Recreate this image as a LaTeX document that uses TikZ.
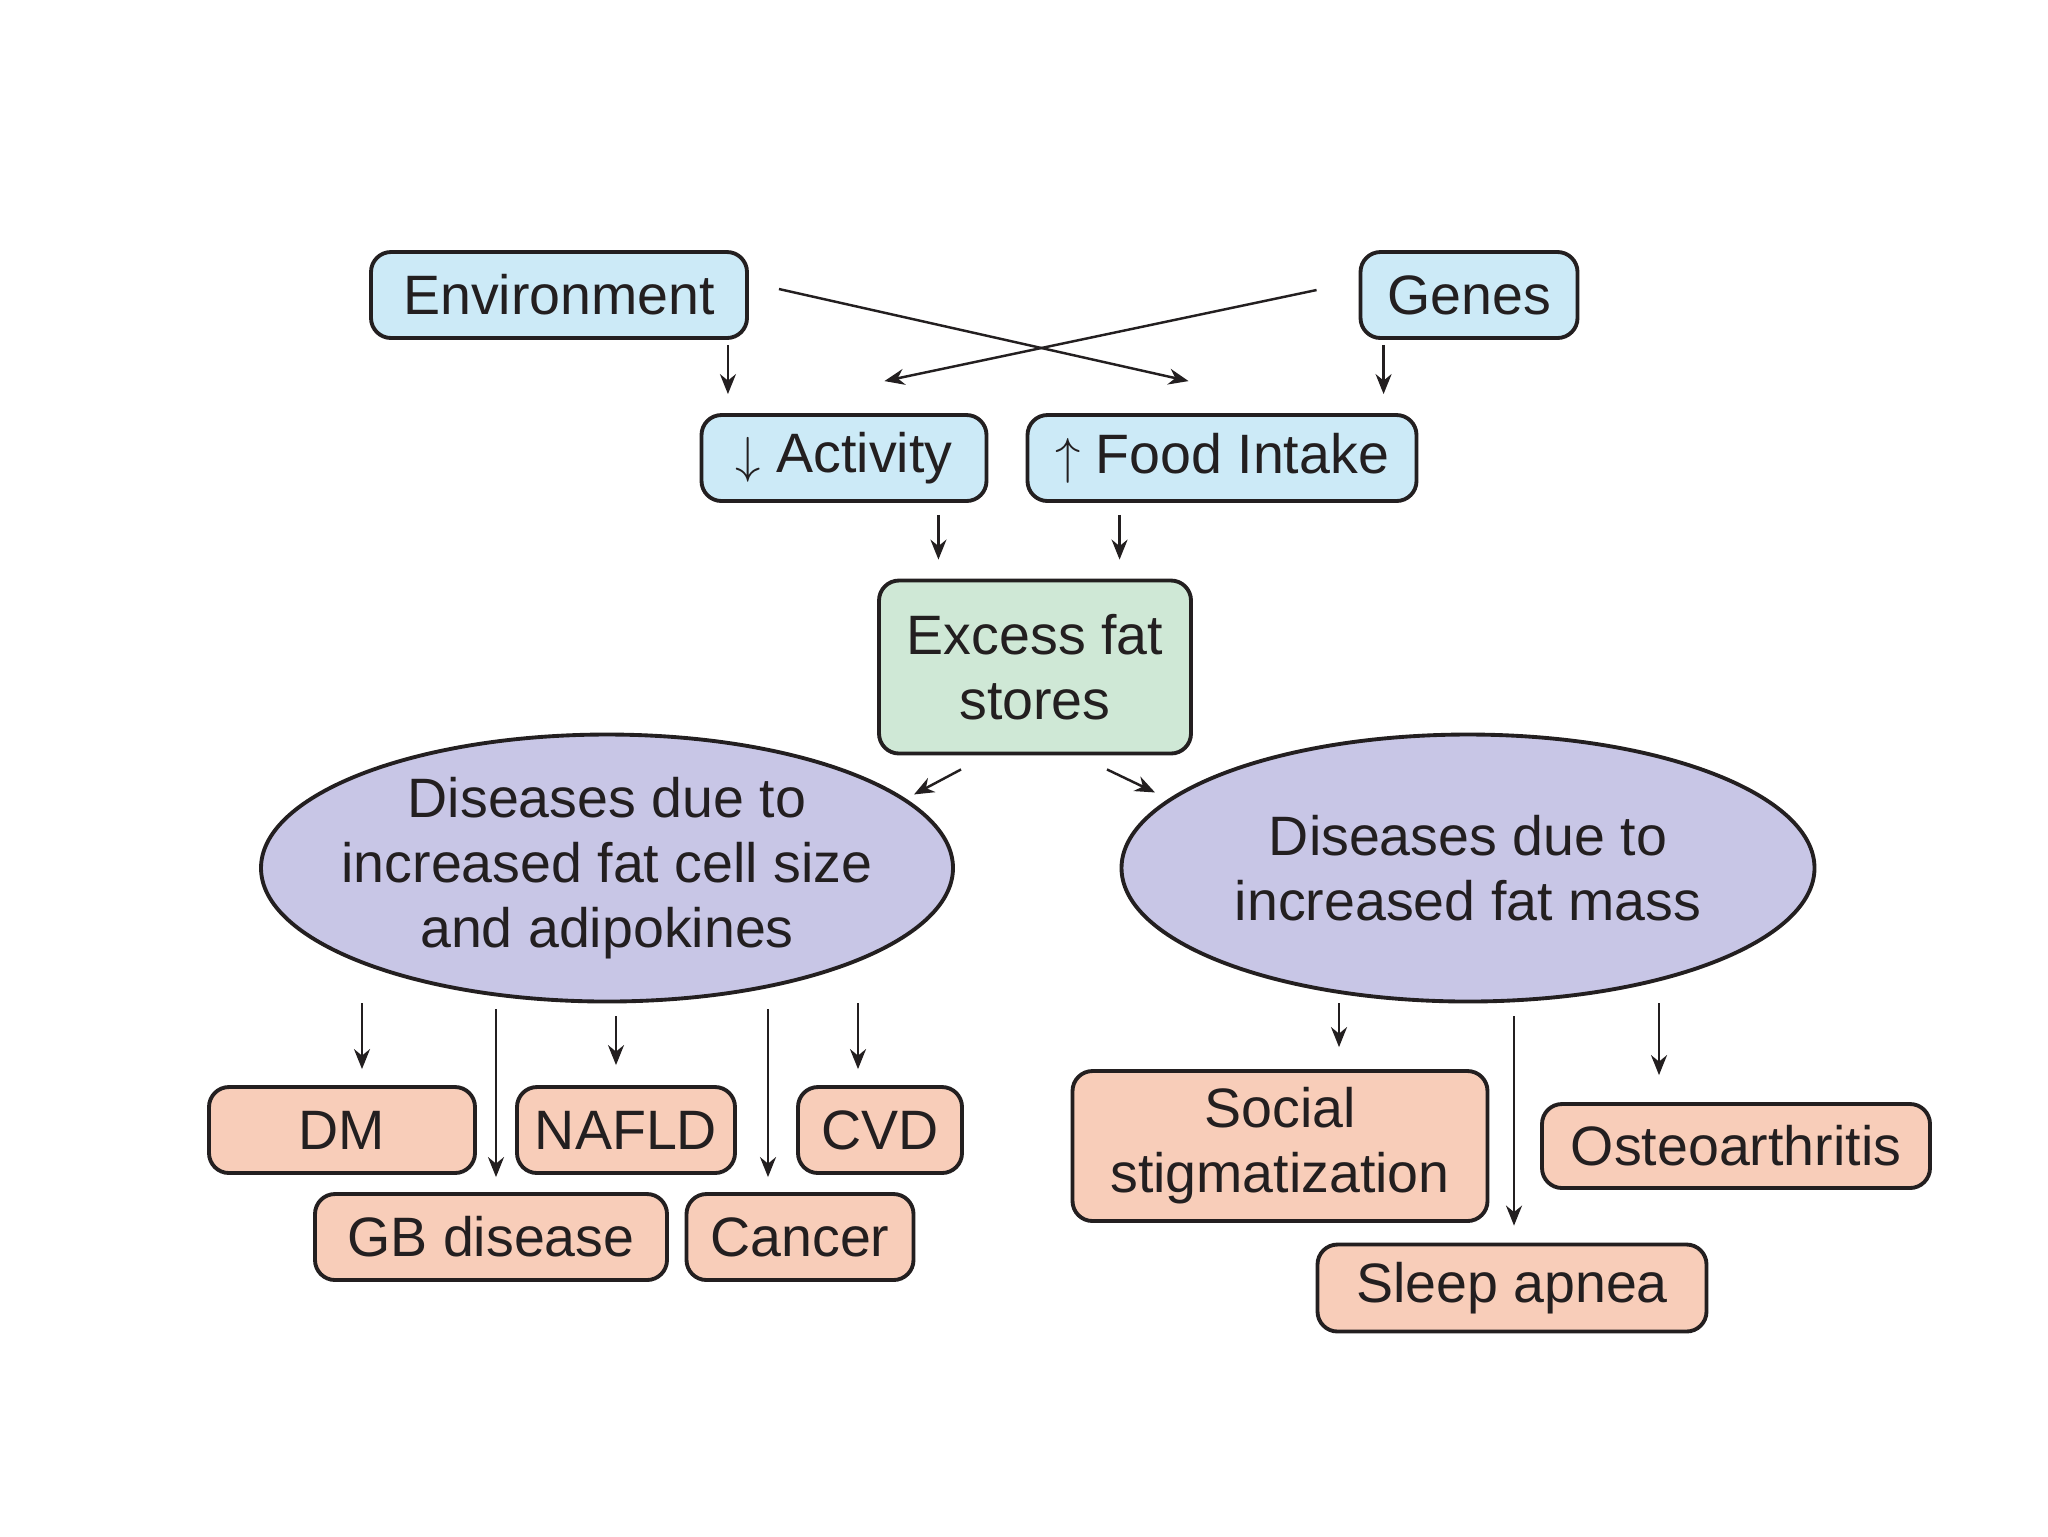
\documentclass[tikz,border=0pt]{standalone}
\usepackage{fontspec}
\setmainfont{Liberation Sans}
\usetikzlibrary{arrows.meta,positioning,shapes.geometric,calc}
\definecolor{obink}{HTML}{231F20}
\definecolor{obblue}{HTML}{CCEAF7}
\definecolor{obgreen}{HTML}{CFE8D6}
\definecolor{obviolet}{HTML}{C8C6E6}
\definecolor{obsalmon}{HTML}{F8CDB9}
\tikzset{
  flow/.style={-{Stealth[length=2mm,width=1.6mm]},line width=0.7pt,draw=obink},
  box/.style={rounded corners=2mm,draw=obink,line width=1.1pt,align=center,inner sep=0pt,minimum height=8.6mm,text=obink,font=\fontsize{15.8}{18.5}\selectfont},
  cause/.style={box,fill=obblue},
  store/.style={box,fill=obgreen},
  group/.style={ellipse,draw=obink,line width=1.1pt,fill=obviolet,align=center,inner sep=0pt,text=obink,font=\fontsize{15.8}{18.5}\selectfont},
  outcome/.style={box,fill=obsalmon}
}

\begin{document}
\begin{tikzpicture}[x=0.1mm,y=-0.1mm]
  \useasboundingbox (0,0) rectangle (2048,1536);
  % causes
  \node[cause,minimum width=37.6mm] (env) at (559,295) {Environment};
  \node[cause,minimum width=21.7mm] (genes) at (1469,295) {Genes};
  \node[cause,minimum width=28.5mm] (act) at (844,458) {$\downarrow$ Activity};
  \node[cause,minimum width=38.9mm] (food) at (1222,458) {$\uparrow$ Food Intake};
  \node[store,minimum width=31.2mm,minimum height=17.3mm] (fat) at (1035,667) {Excess fat\\stores};
  % disease groups
  \node[group,inner xsep=-2.1mm,minimum width=69.2mm,minimum height=26.7mm] (cellsize) at (607,868) {Diseases due to\\increased fat cell size\\and adipokines};
  \node[group,minimum width=69.3mm,minimum height=26.7mm] (fatmass) at (1468,868) {Diseases due to\\increased fat mass};
  % outcomes
  \node[outcome,minimum width=26.6mm] (dm) at (342,1130) {DM};
  \node[outcome,minimum width=21.8mm] (nafld) at (626,1130) {NAFLD};
  \node[outcome,minimum width=16.4mm] (cvd) at (880,1130) {CVD};
  \node[outcome,minimum width=35.2mm] (gb) at (491,1237) {GB disease};
  \node[outcome,minimum width=22.7mm] (cancer) at (800,1237) {Cancer};
  \node[outcome,minimum width=41.5mm,minimum height=15mm] (social) at (1280,1146) {Social\\stigmatization};
  \node[outcome,minimum width=38.8mm,minimum height=8.4mm] (osteo) at (1736,1146) {Osteoarthritis};
  \node[outcome,minimum width=38.9mm,minimum height=8.7mm] (sleep) at (1512,1288) {Sleep apnea};

  \draw[flow,shorten <=0.5mm,shorten >=1.9mm] ([xshift=-2.1mm]env.south east) -- ([xshift=-2.1mm]env.south east |- act.north);
  \draw[flow,shorten <=0.5mm,shorten >=1.9mm] ([xshift=2.5mm]genes.south west) -- ([xshift=2.5mm]genes.south west |- food.north);
  \draw[flow] ([shift={(3mm,0.6mm)}]env.east) -- ([shift={(16.3mm,3.2mm)}]food.north west);
  \draw[flow] ([shift={(-4.2mm,0.5mm)}]genes.west) -- ([shift={(-10.4mm,3.2mm)}]act.north east);
  \draw[flow,shorten <=1.2mm,shorten >=1.9mm] ([xshift=-5mm]act.south east) -- ([xshift=-5mm]act.south east |- fat.north);
  \draw[flow,shorten <=1.2mm,shorten >=1.9mm] ([xshift=9.4mm]food.south west) -- ([xshift=9.4mm]food.south west |- fat.north);
  \draw[flow] ([shift={(-7.4mm,-1.4mm)}]fat.south) -- ([shift={(-12.1mm,-3.9mm)}]fat.south);
  \draw[flow] ([shift={(7.2mm,-1.4mm)}]fat.south) -- ([shift={(12mm,-3.7mm)}]fat.south);

  \draw[flow,shorten >=1.6mm] ([xshift=2mm]dm.north |- cellsize.south) -- ([xshift=2mm]dm.north);
  \draw[flow,shorten <=0.6mm,shorten >=1.5mm] ([xshift=0.5mm]gb.north |- cellsize.south) -- ([xshift=0.5mm]gb.north);
  \draw[flow,shorten <=1.3mm,shorten >=2mm] ([xshift=-1mm]nafld.north |- cellsize.south) -- ([xshift=-1mm]nafld.north);
  \draw[flow,shorten <=0.6mm,shorten >=1.5mm] ([xshift=-3.2mm]cancer.north |- cellsize.south) -- ([xshift=-3.2mm]cancer.north);
  \draw[flow,shorten >=1.6mm] ([xshift=-2.2mm]cvd.north |- cellsize.south) -- ([xshift=-2.2mm]cvd.north);

  \draw[flow,shorten >=2.2mm] ([xshift=5.9mm]social.north |- fatmass.south) -- ([xshift=5.9mm]social.north);
  \draw[flow,shorten <=1.3mm,shorten >=1.7mm] ([xshift=0.2mm]sleep.north |- fatmass.south) -- ([xshift=0.2mm]sleep.north);
  \draw[flow,shorten >=2.7mm] ([xshift=-7.7mm]osteo.north |- fatmass.south) -- ([xshift=-7.7mm]osteo.north);
\end{tikzpicture}
\end{document}
